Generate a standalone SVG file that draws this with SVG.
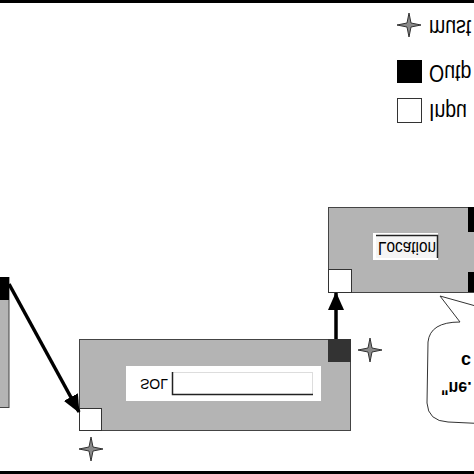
<svg xmlns="http://www.w3.org/2000/svg" width="474" height="474" viewBox="0 0 474 474">
<defs>
<style>
.node{fill:#b4b4b4;stroke:#444;stroke-width:1}
.in{fill:#fff;stroke:#333;stroke-width:1}
.out{fill:#000;stroke:none}
.star{fill:#8a8a8a;stroke:#333;stroke-width:1}
.t{font-family:"Liberation Sans",Arial,sans-serif;fill:#000}
.lg{font-size:19.5px}
.conn{stroke:#000;stroke-width:3.5;fill:none}
</style>
<path id="star" class="star" d="M0,-12 L2,-2 L12,0 L2,2 L0,12 L-2,2 L-12,0 L-2,-2 Z"/>
<marker id="ah" markerUnits="userSpaceOnUse" markerWidth="18" markerHeight="16" refX="17" refY="8" orient="auto">
<path d="M0,0 L18,8 L0,16 Z" fill="#000"/>
</marker>
</defs>
<rect x="0" y="0" width="474" height="474" fill="#fff"/>
<rect x="0" y="0" width="474" height="3" fill="#000"/>
<rect x="0" y="471" width="474" height="3" fill="#000"/>

<g id="legend">
<use href="#star" x="409" y="25"/>
<text class="t lg" transform="matrix(1 0 0 -1.23 0 44.6)" x="429" y="20">must</text>
<rect x="397" y="60" width="25" height="23" fill="#000"/>
<text class="t lg" transform="matrix(1 0 0 -1.23 0 144.95)" x="429" y="65">Outp</text>
<rect x="397.5" y="98.5" width="24" height="24" class="in"/>
<text class="t lg" transform="matrix(1 0 0 -1.23 0 231.92)" x="429" y="104">Inpu</text>
</g>

<g id="node-left">
<rect class="node" x="-5" y="277.5" width="14" height="130"/>
<rect class="out" x="-5" y="277" width="14" height="23"/>
</g>

<g id="node-sol">
<rect class="node" x="79.5" y="339.5" width="271" height="91"/>
<rect x="328" y="339" width="23" height="23" fill="#333"/>
<rect class="in" x="79.5" y="408.5" width="22" height="22"/>
<rect x="126" y="366" width="195" height="35" fill="#fff"/>
<text class="t" font-size="14" transform="matrix(1 0 0 -1 0 758)" x="140" y="379">SOL</text>
<rect x="172.5" y="372.5" width="140" height="22" fill="#fff" stroke="#ddd" stroke-width="1"/>
<path d="M172.5,372 L172.5,394.5 L313,394.5" stroke="#222" stroke-width="1.5" fill="none"/>
<use href="#star" x="91" y="449"/>
<use href="#star" x="370" y="350"/>
</g>

<g id="node-location">
<rect class="node" x="328.5" y="207.5" width="150" height="85"/>
<rect class="out" x="468" y="207" width="10" height="25"/>
<rect class="out" x="468" y="272" width="10" height="20"/>
<rect class="in" x="328.5" y="269.5" width="23" height="23"/>
<rect x="373" y="233" width="65" height="27" fill="#fff"/>
<rect x="376" y="235" width="61" height="23" fill="#f4f4f4"/>
<path d="M376,235.5 L437.5,235.5 L437.5,258" stroke="#222" stroke-width="1.5" fill="none"/>
<text class="t" font-size="18" transform="matrix(1 0 0 -1 0 484)" x="378" y="242" textLength="58" lengthAdjust="spacingAndGlyphs">Location</text>
</g>

<g id="bubble">
<path d="M490,310 L440,296 L460,322 Q430,322 428,342 L427,403 Q428,421 448,422 L490,424 Z" fill="#fff" stroke="#333" stroke-width="1"/>
<text class="t" font-size="18" font-weight="bold" transform="matrix(1 0 0 -1 0 710)" x="461" y="355">c</text>
<text class="t" font-size="16" font-weight="bold" transform="matrix(1 0 0 -1.12 0 809.84)" x="441" y="382">"ne.</text>
</g>

<g id="connectors">
<line class="conn" x1="9" y1="284" x2="79" y2="412" marker-end="url(#ah)"/>
<line class="conn" x1="336" y1="339" x2="336" y2="293" marker-end="url(#ah)"/>
</g>
</svg>
